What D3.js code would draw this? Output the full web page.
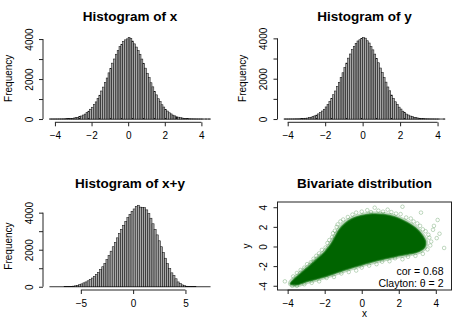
<!DOCTYPE html>
<html>
<head>
<meta charset="utf-8">
<script src="https://cdn.jsdelivr.net/npm/d3@7"></script>
<style>
  body { margin: 0; background: #fff; }
  svg text { font-family: "Liberation Sans", Arial, sans-serif; fill: #000; }
</style>
</head>
<body>
<div id="chart"></div>
<script>
// histogram of x: breaks of 0.1 from -4.3
const xStart = -4.3, xStep = 0.1;
const xCounts = [1, 1, 1, 2, 2, 4, 5, 7, 10, 16, 19, 29, 37, 52, 70, 88, 121, 152, 201, 249,
  322, 392, 491, 590, 726, 858, 1030, 1191, 1402, 1598, 1834, 2052, 2310, 2528, 2795, 3003,
  3241, 3418, 3617, 3740, 3880, 3960, 4010,
  4075, 4020, 3900, 3760, 3600, 3420, 3240, 3000, 2790, 2545, 2290, 2070, 1815, 1610, 1385,
  1210, 1015, 870, 715, 600, 480, 400, 312, 256, 195, 158, 115, 94, 66, 53, 36, 29, 19, 15,
  10, 7, 5, 3, 2, 2, 1, 0, 1, 0, 1];

// histogram of y: breaks of 0.1 from -4.2
const yStart = -4.2, yStep = 0.1;
const yCounts = [1, 1, 1, 3, 3, 5, 8, 9, 14, 21, 27, 40, 49, 71, 90, 117, 158, 196, 255, 315,
  398, 485, 600, 718, 866, 1020, 1205, 1390, 1610, 1820, 2065, 2295, 2550, 2775, 3020, 3225,
  3440, 3600, 3750, 3870, 3930, 3990,
  4040, 4010, 3880, 3770, 3590, 3430, 3220, 3010, 2790, 2530, 2310, 2050, 1830, 1590, 1400,
  1190, 1030, 855, 730, 590, 495, 390, 320, 248, 200, 150, 122, 88, 70, 50, 39, 27, 21, 14,
  10, 7, 4, 4, 2, 1, 1, 0, 0, 1];

// histogram of x+y: breaks of 0.2 from -8.0
const sumStart = -8.0, sumStep = 0.2;
const sumCounts = [0, 0, 0, 0, 0, 0, 0, 3, 6, 12, 20, 32, 50, 75, 110, 155, 210,
  260, 320, 390, 470, 560, 660, 780, 920,
  1080, 1260, 1460, 1680, 1920, 2160, 2400, 2640, 2880, 3100, 3320, 3530, 3730, 3910, 4070,
  4200, 4330, 4400, 4300, 4290, 4270, 4150, 3950,
  3700, 3400, 3100, 2800, 2480, 2160, 1850, 1540, 1250, 980, 750, 600, 430, 260, 165, 100,
  55, 28, 13, 6, 2, 1, 0, 0, 0, 0, 0, 0, 0];

const freqTicks = [0, 1000, 2000, 3000, 4000];
const freqLabels = [0, 2000, 4000];
const histTicks = [-4, -2, 0, 2, 4];
const sumTicks = [-5, 0, 5];

// bivariate panel: dense core outline and the sparse points round it
const bivXRange = [-4.2, 4.5];
const bivYRange = [-4.1, 4.2];
const bivTicks = [-4, -2, 0, 2, 4];
const coreX = [-3.85, -3.4, -2.9, -2.4, -2.0, -1.7, -1.45, -1.2, -0.9, -0.5, 0.0, 0.6, 1.2, 1.8,
  2.4, 2.9, 3.25, 3.45, 3.4, 3.1, 2.6, 2.0, 1.4, 0.8, 0.2, -0.4, -1.0, -1.7, -2.4, -3.0, -3.5];
const coreY = [-3.8, -2.9, -2.1, -1.25, -0.55, 0.15, 0.95, 1.75, 2.35, 2.85, 3.15, 3.3, 3.25, 3.0,
  2.5, 1.9, 1.2, 0.5, -0.1, -0.5, -0.75, -0.95, -1.2, -1.45, -1.75, -2.1, -2.45, -2.9, -3.3, -3.6, -3.9];
const pointX = [-4.15, -3.7, -3.5, -3.3, -3.1, -2.95, -2.75, -2.6, -2.45, -2.3, -2.15, -1.95, -1.85,
  -1.75, -1.6, -1.55, -1.45, -1.35, -1.3, -1.15, -1.0,
  -0.75, -0.5, -0.3, 0.0, 0.3, 0.5, 0.7, 0.9, 1.15, 1.4, 1.6, 1.85, 2.1, 2.2, 2.4, 2.65, 2.8, 3.0,
  3.15, 3.3, 3.45, 3.6,
  3.65, 3.75, 3.7, 3.55, 3.85, 4.1, 4.05, 4.45, 3.2, 3.9, 4.2,
  3.3, 2.9, 2.5, 2.2, 1.8, 1.5, 1.1, 0.8, 0.4, 0.0, -0.3, -0.7, -1.1, -1.5, -1.9, -2.3, -2.7,
  -3.1, -3.5, -3.75];
const pointY = [-3.55, -3.05, -2.7, -2.4, -2.15, -1.8, -1.6, -1.25, -0.95, -0.7, -0.35, -0.1, 0.35,
  0.65, 0.95, 1.35, 1.6, 2.0, 2.25, 2.55, 2.75,
  3.0, 3.25, 3.45, 3.55, 3.7, 3.5, 3.95, 3.65, 3.55, 3.75, 3.5, 3.35, 3.3, 4.05, 2.95, 2.85, 2.55, 2.35,
  2.1, 1.75, 1.55, 1.2,
  0.9, 0.5, 0.1, -0.3, 1.7, 2.7, 0.85, -0.15, 3.45, 2.1, 1.3,
  -0.75, -0.95, -1.05, -1.3, -1.2, -1.5, -1.55, -1.8, -1.95, -2.15, -2.45, -2.6, -2.75, -3.1, -3.2,
  -3.55, -3.7, -3.85, -4.0, -4.0];
const corText = 'cor = 0.68';
const copulaText = 'Clayton: θ = 2';

const PW = 174, PH = 88;
const svg = d3.select('#chart').append('svg')
  .attr('width', 474)
  .attr('height', 332);

// R style padding: 4% on each side of the range
function pad(lo, hi) {
  const d = (hi - lo) * 0.04;
  return [lo - d, hi + d];
}

function drawAxes(g, x, y, xt, yt, ylabels) {
  const ax = g.append('g')
    .attr('transform', `translate(0,${PH})`)
    .call(d3.axisBottom(x).tickValues(xt).tickSize(4).tickSizeOuter(0).tickPadding(4));
  ax.select('.domain').attr('d', `M${x(xt[0])},0H${x(xt[xt.length - 1])}`);

  const ay = g.append('g')
    .call(d3.axisLeft(y).tickValues(yt).tickSize(4).tickSizeOuter(0)
      .tickFormat(d => ylabels.includes(d) ? d : ''));
  ay.select('.domain').attr('d', `M0,${y(yt[0])}V${y(yt[yt.length - 1])}`);
  ay.selectAll('text')
    .attr('transform', 'rotate(-90)')
    .attr('text-anchor', 'middle')
    .attr('x', 0)
    .attr('y', -10.5)
    .attr('dy', 0);

  [ax, ay].forEach(a => {
    a.attr('font-family', null).attr('font-size', null);
    a.selectAll('text').style('font-size', '10px');
    a.selectAll('line, path').attr('stroke', '#222');
  });
  ax.selectAll('text').attr('dy', '0.88em');
}

function histPanel(left, top, title, start, step, counts, xt) {
  const g = svg.append('g').attr('transform', `translate(${left},${top})`);
  const lo = start, hi = start + step * counts.length;
  const ymax = d3.max(counts);
  const x = d3.scaleLinear().domain(pad(lo, hi)).range([0, PW]);
  const y = d3.scaleLinear().domain([-0.04 * ymax, 1.04 * ymax]).range([PH, 0]);

  g.append('path')
    .attr('d', `M${x(lo)},${y(0)}H${x(hi)}`)
    .attr('stroke', '#000')
    .attr('stroke-width', 0.8);

  g.append('g').selectAll('rect')
    .data(counts)
    .join('rect')
    .attr('x', (d, i) => x(start + i * step))
    .attr('width', (d, i) => x(start + (i + 1) * step) - x(start + i * step))
    .attr('y', d => y(d))
    .attr('height', d => y(0) - y(d))
    .attr('fill', '#a8a8a8')
    .attr('stroke', '#111')
    .attr('stroke-width', 0.55);

  drawAxes(g, x, y, xt, freqTicks, freqLabels);

  g.append('text')
    .attr('x', PW / 2).attr('y', -13.8)
    .attr('text-anchor', 'middle')
    .style('font-weight', 'bold').style('font-size', '13.5px')
    .text(title);
  g.append('text')
    .attr('transform', `translate(-31.5,${PH / 2}) rotate(-90)`)
    .attr('text-anchor', 'middle')
    .style('font-size', '10px')
    .text('Frequency');
}

histPanel(43, 34.3, 'Histogram of x', xStart, xStep, xCounts, histTicks);
histPanel(277.5, 34.3, 'Histogram of y', yStart, yStep, yCounts, histTicks);
histPanel(43, 202, 'Histogram of x+y', sumStart, sumStep, sumCounts, sumTicks);

// bivariate distribution
(function () {
  const left = 277.5, top = 202;
  const g = svg.append('g').attr('transform', `translate(${left},${top})`);
  const x = d3.scaleLinear().domain(pad(...bivXRange)).range([0, PW]);
  const y = d3.scaleLinear().domain(pad(...bivYRange)).range([PH, 0]);

  g.append('clipPath').attr('id', 'bivclip')
    .append('rect').attr('width', PW).attr('height', PH);
  const inner = g.append('g').attr('clip-path', 'url(#bivclip)');

  const core = d3.zip(coreX, coreY);
  const outline = d3.line()
    .x(d => x(d[0]))
    .y(d => y(d[1]))
    .curve(d3.curveCatmullRomClosed.alpha(0.5));

  inner.append('path')
    .attr('d', outline(core))
    .attr('fill', 'none')
    .attr('stroke', '#006400')
    .attr('stroke-opacity', 0.25)
    .attr('stroke-width', 5);
  inner.append('path')
    .attr('d', outline(core))
    .attr('fill', '#006400')
    .attr('stroke', '#1b7a1b')
    .attr('stroke-opacity', 0.7)
    .attr('stroke-width', 1.5);

  inner.append('g').selectAll('circle')
    .data(d3.zip(pointX, pointY))
    .join('circle')
    .attr('cx', d => x(d[0]))
    .attr('cy', d => y(d[1]))
    .attr('r', 1.8)
    .attr('fill', 'none')
    .attr('stroke', '#006400')
    .attr('stroke-opacity', 0.35)
    .attr('stroke-width', 0.7);

  g.append('rect')
    .attr('width', PW).attr('height', PH)
    .attr('fill', 'none').attr('stroke', '#222').attr('stroke-width', 1);

  drawAxes(g, x, y, bivTicks, bivTicks, bivTicks);

  g.append('text')
    .attr('x', PW / 2).attr('y', -14)
    .attr('text-anchor', 'middle')
    .style('font-weight', 'bold').style('font-size', '13.5px')
    .text('Bivariate distribution');
  g.append('text')
    .attr('x', PW / 2).attr('y', PH + 26.5)
    .attr('text-anchor', 'middle')
    .style('font-size', '10px')
    .text('x');
  g.append('text')
    .attr('transform', `translate(-27.5,${PH / 2}) rotate(-90)`)
    .attr('text-anchor', 'middle')
    .style('font-size', '10px')
    .text('y');

  g.append('text')
    .attr('x', PW - 8).attr('y', PH - 15.3)
    .attr('text-anchor', 'end')
    .style('font-size', '10.5px')
    .text(corText);
  g.append('text')
    .attr('x', PW - 8).attr('y', PH - 3.5)
    .attr('text-anchor', 'end')
    .style('font-size', '10.5px')
    .text(copulaText);
})();
</script>
</body>
</html>
